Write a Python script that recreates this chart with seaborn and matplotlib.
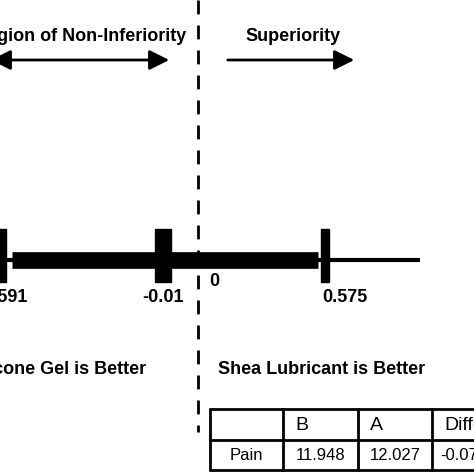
import matplotlib.pyplot as plt
import seaborn as sns
from matplotlib.patches import FancyArrowPatch

# schematic layout positions (diagram is not to scale)
tick_values = ["-0.591", "-0.01", "0.575"]
tick_pos = [2, 163, 325]
tick_widths = [8, 16, 8]
zero_pos = 198
ci_span = (12, 318)
table_cols = ["", "B", "A", "Difference"]
table_row = ["Pain", "11.948", "12.027", "-0.079"]


def main() -> None:
    sns.set_theme(style="white")
    plt.rcParams["font.family"] = ["Liberation Sans", "DejaVu Sans"]
    plt.rcParams["text.color"] = "black"

    fig = plt.figure(figsize=(4.74, 4.74), dpi=100)
    ax = fig.add_axes([0, 0, 1, 1])
    ax.set_xlim(0, 474)
    ax.set_ylim(474, 0)
    ax.axis("off")

    # dashed zero line
    ax.plot([zero_pos, zero_pos], [0, 432], color="black", lw=2, ls=(0, (5, 4)))

    # axis line and CI bar
    ax.plot([0, 420], [260, 260], color="black", lw=3, solid_capstyle="butt")
    ax.plot(list(ci_span), [260, 260], color="black", lw=12, solid_capstyle="butt")
    for p, w in zip(tick_pos, tick_widths):
        ax.add_patch(plt.Rectangle((p - w / 2, 229), w, 53, color="black"))

    for p, lab in zip(tick_pos, tick_values):
        ax.text(p + 20 if lab == "0.575" else p, 298, lab, ha="center", va="center",
                fontsize=13, fontweight="bold")
    ax.text(214, 281, "0", ha="center", va="center", fontsize=13, fontweight="bold")

    # region arrows
    ax.text(80, 36, "Region of Non-Inferiority", ha="center", va="center",
            fontsize=13, fontweight="bold")
    ax.add_patch(FancyArrowPatch((-12, 60), (172, 60), arrowstyle="<|-|>",
                                 mutation_scale=30, lw=2, color="black"))
    ax.text(293, 36, "Superiority", ha="center", va="center", fontsize=13, fontweight="bold")
    ax.add_patch(FancyArrowPatch((225, 60), (357, 60), arrowstyle="-|>",
                                 mutation_scale=30, lw=2, color="black"))

    ax.text(146, 370, "Silicone Gel is Better", ha="right", va="center",
            fontsize=13, fontweight="bold")
    ax.text(218, 370, "Shea Lubricant is Better", ha="left", va="center",
            fontsize=13, fontweight="bold")

    # table
    edges = [210, 283, 358, 432, 520]
    for y in [409, 440, 470]:
        ax.plot([210, 474], [y, y], color="black", lw=2)
    for x in edges[:-1]:
        ax.plot([x, x], [409, 470], color="black", lw=2)
    for i in range(4):
        ax.text(edges[i] + 12, 425, table_cols[i], ha="left", va="center", fontsize=14)
        ax.text((edges[i] + edges[i + 1]) / 2 if i < 3 else edges[i] + 8, 455,
                table_row[i], ha="center" if i < 3 else "left", va="center",
                fontsize=12, stretch="condensed")

    fig.savefig("out.png", dpi=100)


if __name__ == "__main__":
    main()
